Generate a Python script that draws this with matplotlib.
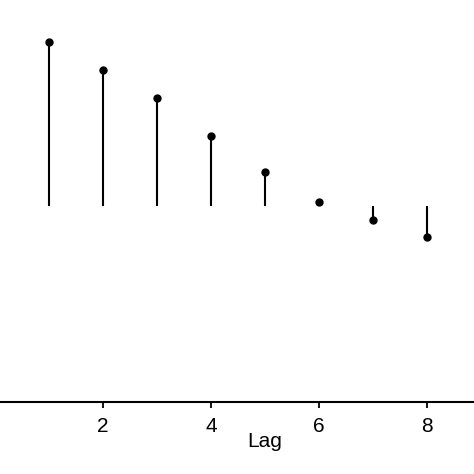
import matplotlib
matplotlib.use("Agg")
import matplotlib.pyplot as plt

# autocorrelation values
lags = [1, 2, 3, 4, 5, 6, 7, 8]
acf = [0.835, 0.694, 0.550, 0.356, 0.175, 0.019, -0.071, -0.160]
xticks = [2, 4, 6, 8]

plt.rcParams["font.family"] = ["Liberation Sans", "DejaVu Sans"]

fig = plt.figure(figsize=(4.74, 4.74), dpi=100)
# axes spills past the figure edges, as in the cropped original
ax = fig.add_axes([-5.5 / 474, 72 / 474, 541 / 474, 392 / 474])

ml, sl, bl = ax.stem(lags, acf, basefmt=" ")
plt.setp(sl, color="black", linewidth=1.5)
plt.setp(ml, color="black", marker="o", markersize=5)

ax.set_xlim(0, 10)
ax.set_ylim(-1, 1)
ax.set_xticks(xticks)
ax.set_xticklabels([str(t) for t in xticks])
ax.set_yticks([])
for s in ["top", "left", "right"]:
    ax.spines[s].set_visible(False)
ax.spines["bottom"].set_linewidth(1.5)
ax.tick_params(axis="x", direction="out", length=4, width=1.3,
               labelsize=15, pad=7)
ax.set_xlabel("Lag", fontsize=15, labelpad=-3)

fig.savefig("out.png", dpi=100)
